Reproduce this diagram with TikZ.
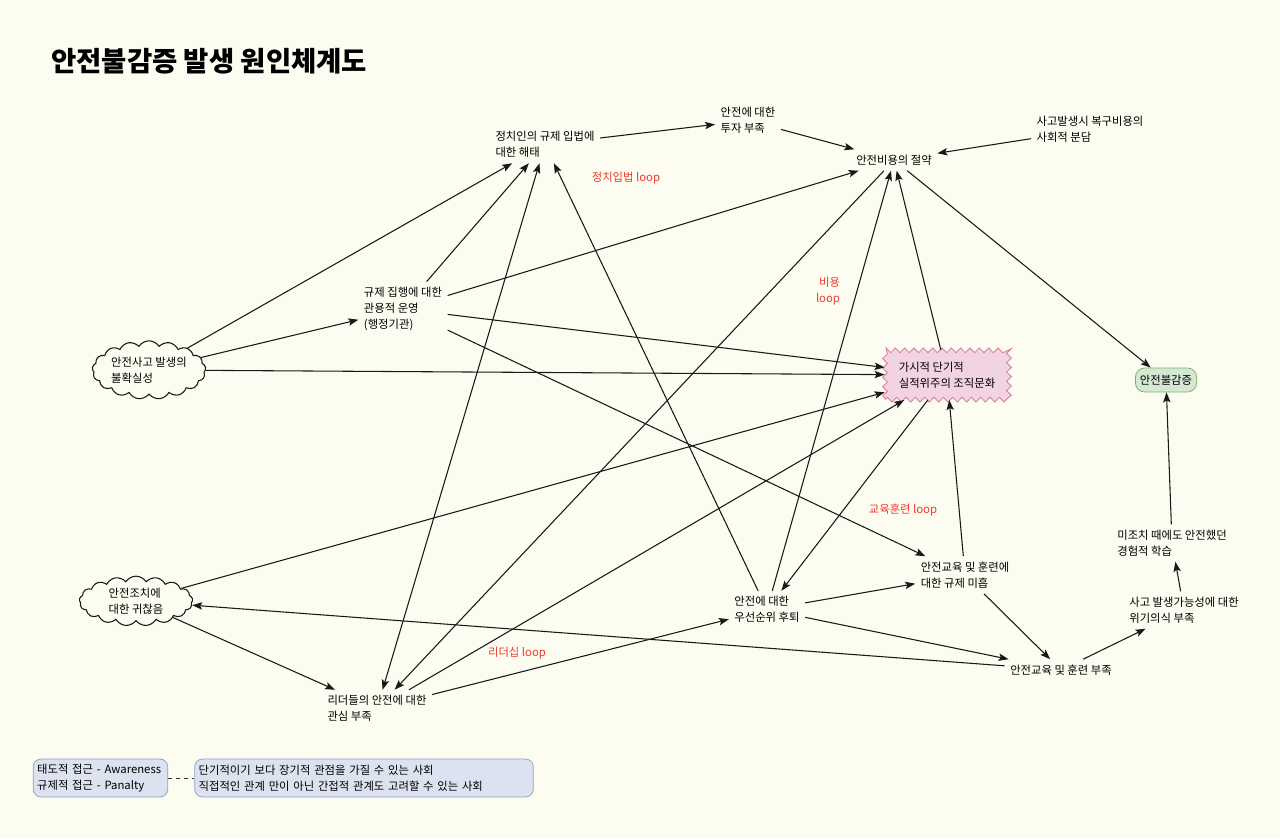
\documentclass[tikz,border=0pt]{standalone}
\usepackage{fontspec}
\newfontfamily\kr{Noto Sans CJK KR}
\usetikzlibrary{arrows.meta,shapes.symbols,decorations.pathmorphing}
\definecolor{bg}{HTML}{FDFCF0}
\definecolor{lblred}{HTML}{EE3B2F}
\definecolor{pinkfill}{HTML}{F1D3E3}
\definecolor{pinkline}{HTML}{D97A9E}
\definecolor{greenfill}{HTML}{D5E8D4}
\definecolor{greenline}{HTML}{82B366}
\definecolor{legfill}{HTML}{DCE2F0}
\definecolor{legline}{HTML}{8FA3CC}
\begin{document}
\begin{tikzpicture}[x=0.75pt,y=-0.75pt,
  every node/.style={font=\kr\fontsize{8.5}{12}\selectfont, text=black},
  >={Stealth[length=7.5pt,width=5.5pt,inset=1.5pt]},
  txt/.style={align=left, inner sep=4pt},
  edge/.style={->, line width=0.8pt, black!90},
  bi/.style={<->, line width=0.8pt, black!90},
  cloudnode/.style={cloud, cloud puffs=17, cloud puff arc=115, aspect=2.3, draw=black!90, line width=0.8pt, fill=bg, align=left, inner sep=1pt, minimum width=85pt, minimum height=37pt},
  starbox/.style={draw=pinkline, fill=pinkfill, line width=0.6pt, decorate, decoration={zigzag, segment length=7pt, amplitude=1.8pt}, align=left, minimum width=93pt, minimum height=37pt, inner sep=3pt},
  goalbox/.style={draw=greenline, fill=greenfill, line width=0.6pt, rounded corners=7pt, minimum width=46pt, minimum height=18pt, inner sep=2pt},
  legbox/.style={draw=legline, fill=legfill, line width=0.6pt, rounded corners=6pt, align=left, inner sep=3pt, minimum height=28.5pt},
  redlbl/.style={text=lblred, inner sep=1pt}
]
\useasboundingbox (0,0) rectangle (1280,838);
\fill[bg] (0,0) rectangle (1280,838);

% title
\node[font=\kr\bfseries\fontsize{20.6}{24}\selectfont, anchor=west, inner sep=0pt] (T) at (51,61) {안전불감증 발생 원인체계도};

% nodes
\node[txt] (A) at (545,144.5) {정치인의 규제 입법에\\대한 해태};
\node[txt] (B) at (748,120.5) {안전에 대한\\투자 부족};
\node[txt] (C) at (894,160) {안전비용의 절약};
\node[txt] (D) at (1090,129.5) {사고발생시 복구비용의\\사회적 분담};
\node[txt] (E) at (403,309) {규제 집행에 대한\\관용적 운영\\(행정기관)};
\node[cloudnode] (F) at (149,370) {안전사고 발생의\\불확실성};
\node[starbox] (G) at (947,375) {가시적 단기적\\실적위주의 조직문화};
\node[goalbox] (H) at (1166,380) {안전불감증};
\node[cloudnode] (I) at (136,601) {안전조치에\\대한 귀찮음};
\node[txt] (J) at (767,609.5) {안전에 대한\\우선순위 후퇴};
\node[txt] (K) at (965,575) {안전교육 및 훈련에\\대한 규제 미흡};
\node[txt] (L) at (1061,670) {안전교육 및 훈련 부족};
\node[txt] (M) at (1184,610) {사고 발생가능성에 대한\\위기의식 부족};
\node[txt] (N) at (1172,543) {미조치 때에도 안전했던\\경험적 학습};
\node[txt] (O) at (377,708.5) {리더들의 안전에 대한\\관심 부족};

% loop labels
\node[redlbl] (l1) at (626,178) {정치입법 loop};
\node[redlbl, align=right] (l2) at (828,291.5) {비용\\loop};
\node[redlbl] (l3) at (903,510) {교육훈련 loop};
\node[redlbl] (l4) at (517,653) {리더십 loop};

% legend
\node[legbox, text width=95pt] (P) at (100.5,778) {태도적 접근 - Awareness\\규제적 접근 - Panalty};
\node[legbox, text width=248pt] (Q) at (364,778) {단기적이기 보다 장기적 관점을 가질 수 있는 사회\\직접적인 관계 만이 아닌 간접적 관계도 고려할 수 있는 사회};
\draw[dashed, line width=0.6pt, black!80] (P) -- (Q);

% edges
\draw[edge] (A) -- (B);
\draw[edge] (B) -- (C);
\draw[edge] (D) -- (C);
\draw[edge] (C) -- (H);
\draw[edge] (F) -- (A);
\draw[edge] (E) -- (A);
\draw[bi] (O) -- (A);
\draw[edge] (J) -- (A);
\draw[edge] (E) -- (C);
\draw[edge] (E) -- (G);
\draw[edge] (E) -- (K);
\draw[edge] (F) -- (E);
\draw[edge] (F) -- (G);
\draw[edge] (I) -- (G);
\draw[edge] (I) -- (O);
\draw[edge] (L) -- (I);
\draw[edge] (J) -- (C);
\draw[edge] (G) -- (C);
\draw[edge] (C) -- (O);
\draw[edge] (G) -- (J);
\draw[edge] (K) -- (G);
\draw[edge] (J) -- (K);
\draw[edge] (J) -- (L);
\draw[edge] (K) -- (L);
\draw[edge] (L) -- (M);
\draw[edge] (M) -- (N);
\draw[edge] (N) -- (H);
\draw[edge] (O) -- (G);
\draw[edge] (O) -- (J);
\end{tikzpicture}
\end{document}
